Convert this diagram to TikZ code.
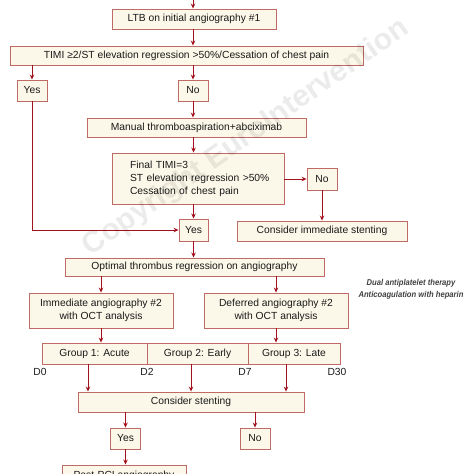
\documentclass[tikz,border=0pt]{standalone}
\usepackage{fontspec}
\setmainfont{Liberation Sans}
\newfontfamily\narrowit[FakeStretch=0.9]{Liberation Sans}
\usetikzlibrary{arrows.meta,calc}
\definecolor{boxline}{HTML}{C06A66}
\definecolor{boxfill}{HTML}{FCF8E9}
\definecolor{arrred}{HTML}{A3121C}
\begin{document}
\begin{tikzpicture}[x=1pt,y=-1pt,
  bx/.style={draw=boxline,fill=boxfill,line width=0.9pt,inner sep=0pt,font=\fontsize{10.3}{13}\selectfont,text=black!90},
  arr/.style={draw=arrred,line width=0.9pt,-{Stealth[length=5pt,width=4.5pt]}},
  lab/.style={font=\fontsize{10.3}{13}\selectfont,text=black!90,inner sep=0pt},
  note/.style={font=\narrowit\bfseries\itshape\fontsize{8.5}{10}\selectfont,text=black!75,inner sep=0pt}]
\useasboundingbox (0,0) rectangle (474,474);
\begin{scope}
\clip (0,0) rectangle (474,474);
\coordinate (top) at (193,-2);
\node[bx,minimum width=164pt,minimum height=20pt] (ltb) at (194,19) {LTB on initial angiography \#1};
\node[bx,minimum width=353pt,minimum height=19pt] (timi) at (186.5,55.5) {TIMI ≥2/ST elevation regression >50\%/Cessation of chest pain};
\node[bx,minimum width=30pt,minimum height=21pt] (yes1) at (32,90.5) {Yes};
\node[bx,minimum width=30pt,minimum height=21pt] (no1) at (193,90.5) {No};
\node[bx,minimum width=219pt,minimum height=19pt] (manual) at (196.5,127.5) {Manual thromboaspiration+abciximab};
\node[bx,minimum height=51pt,text width=172pt,align=left] (final) at (198,178.5) {\hspace*{18pt}Final TIMI=3\\\hspace*{18pt}ST elevation regression >50\%\\\hspace*{18pt}Cessation of chest pain};
\node[bx,minimum width=30pt,minimum height=22pt] (no2) at (322,179) {No};
\node[bx,minimum width=170pt,minimum height=20pt] (cis) at (322,231) {Consider immediate stenting};
\node[bx,minimum width=29pt,minimum height=22pt] (yes2) at (193.5,230) {Yes};
\node[bx,minimum width=259pt,minimum height=18pt] (opt) at (194.5,267) {Optimal thrombus regression on angiography};
\node[bx,minimum width=144pt,minimum height=35pt,align=center] (imm) at (101,310.5) {Immediate angiography \#2\\with OCT analysis};
\node[bx,minimum width=144pt,minimum height=35pt,align=center] (def) at (276,310.5) {Deferred angiography \#2\\with OCT analysis};
\node[note] (n1) at (411,283) {Dual antiplatelet therapy};
\node[note] (n2) at (411,295) {Anticoagulation with heparin};
\node[bx,minimum width=105pt,minimum height=21pt] (g1) at (94.5,353.5) {Group 1: Acute};
\node[bx,minimum width=101pt,minimum height=21pt] (g2) at (197.5,353.5) {Group 2: Early};
\node[bx,minimum width=92pt,minimum height=21pt] (g3) at (294,353.5) {Group 3: Late};
\node[lab] (d0) at (40,372) {D0};
\node[lab] (d2) at (147,372) {D2};
\node[lab] (d7) at (245,372) {D7};
\node[lab] (d30) at (337,372) {D30};
\node[bx,minimum width=226pt,minimum height=20pt] (cons) at (191,402) {Consider stenting};
\node[bx,minimum width=30pt,minimum height=21pt] (yes3) at (125.5,438.5) {Yes};
\node[bx,minimum width=30pt,minimum height=21pt] (no3) at (255,438.5) {No};
\node[bx,minimum width=124pt,minimum height=22pt] (post) at (124,476) {Post-PCI angiography};
\coordinate (ga) at (88,364);
\coordinate (gb) at (191,364);
\coordinate (gc) at (286,364);
% arrows
\draw[arr] (top) -- (top |- ltb.north);
\draw[arr] (top |- ltb.south) -- (top |- timi.north);
\draw[arr] (yes1.north |- timi.south) -- (yes1.north);
\draw[arr] (no1.north |- timi.south) -- (no1.north);
\draw[arr] (no1.south) -- (no1.south |- manual.north);
\draw[arr] (yes2 |- manual.south) -- (yes2 |- final.north);
\draw[arr] (final.east |- no2) -- (no2.west);
\draw[arr] (no2.south) -- (cis.north);
\draw[arr] (yes2 |- final.south) -- (yes2.north);
\draw[arr] (yes1.south) |- (yes2.west);
\draw[arr] (yes2.south) -- (yes2 |- opt.north);
\draw[arr] (imm |- opt.south) -- (imm.north);
\draw[arr] (def |- opt.south) -- (def.north);
\draw[arr] (imm.south) -- (imm |- g1.north);
\draw[arr] (def.south) -- (def |- g3.north);
\draw[arr] (ga) -- (ga |- cons.north);
\draw[arr] (gb) -- (gb |- cons.north);
\draw[arr] (gc) -- (gc |- cons.north);
\draw[arr] (yes3 |- cons.south) -- (yes3.north);
\draw[arr] (no3 |- cons.south) -- (no3.north);
\draw[arr] (yes3.south) -- (yes3 |- post.north);
% watermark
\node[rotate=35,font=\bfseries\fontsize{30}{32}\selectfont,text=black,opacity=0.08,inner sep=0pt] (wm) at (246,138) {Copyright EuroIntervention};
\end{scope}
\end{tikzpicture}
\end{document}
